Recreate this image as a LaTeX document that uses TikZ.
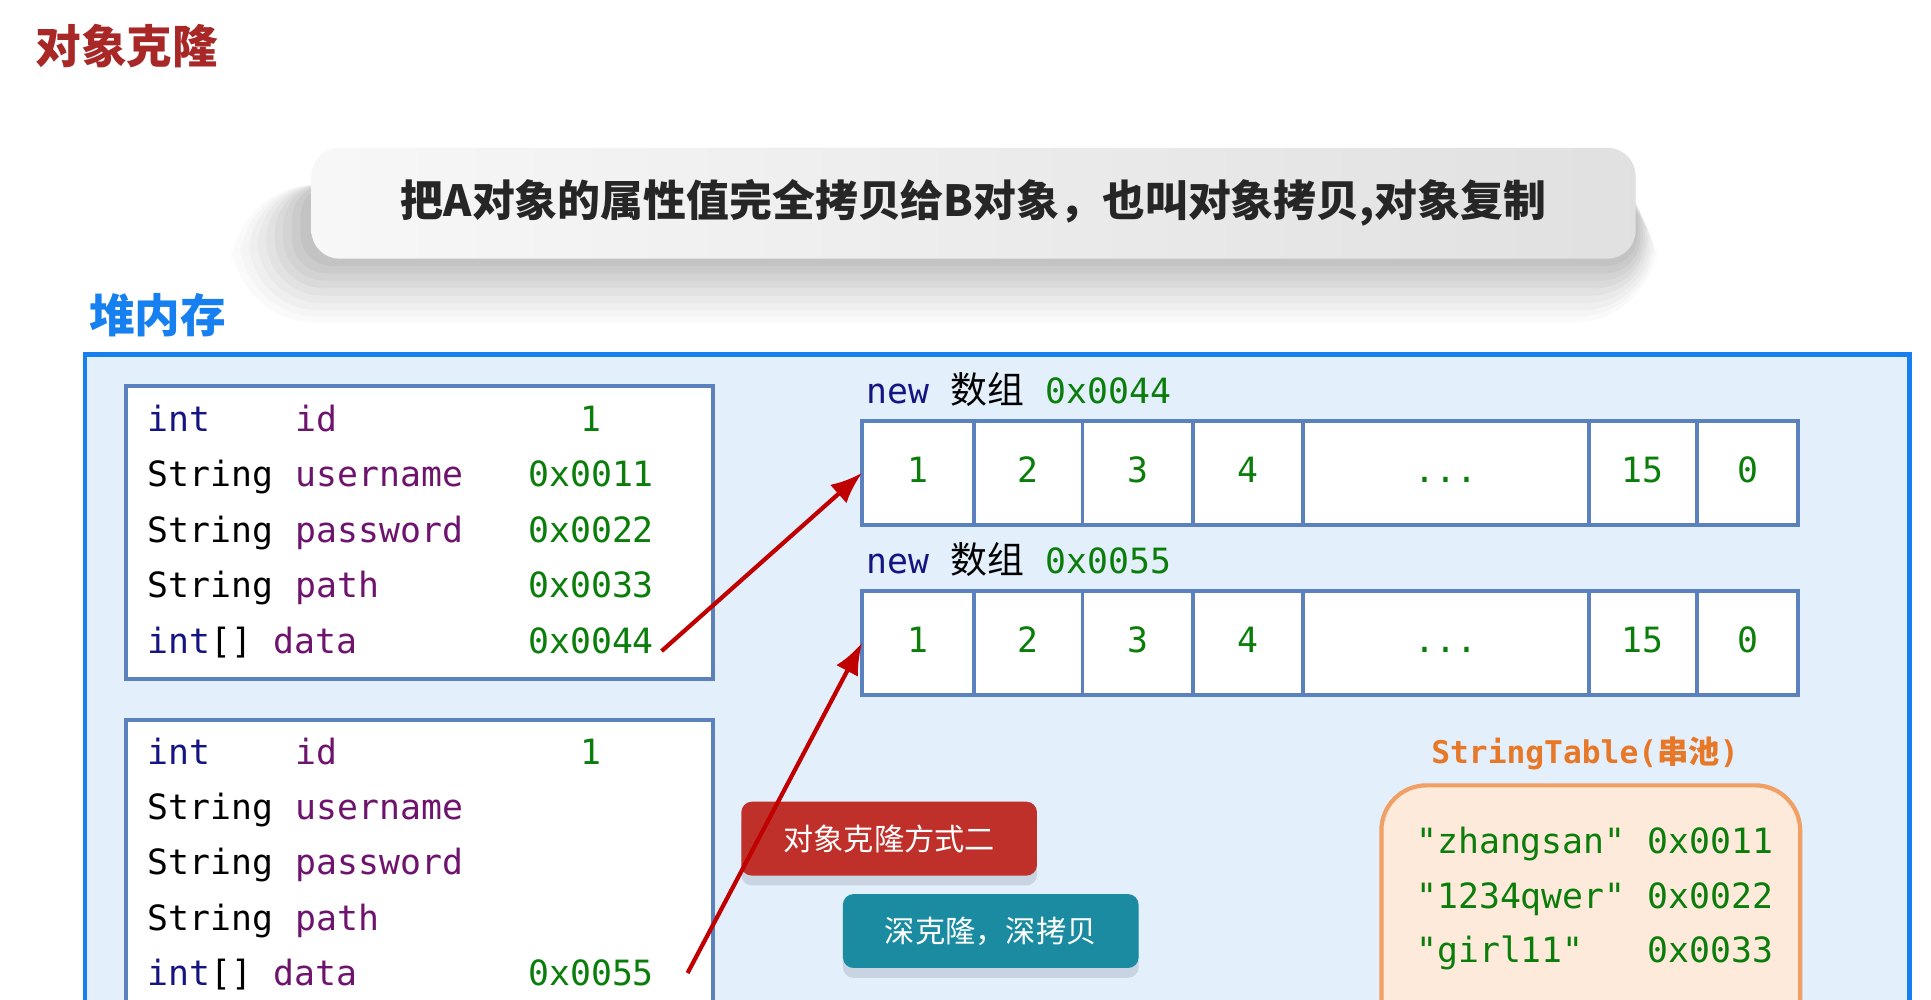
\documentclass[tikz,border=0pt]{standalone}
\usepackage{fontspec}
\setmainfont{Noto Sans CJK SC}
\setmonofont{DejaVu Sans Mono}
\newfontfamily\cjk{Noto Sans CJK SC}
\usetikzlibrary{positioning,arrows.meta,shadows}

% Colours taken from the slide
\definecolor{titlered}{RGB}{168,40,40}
\definecolor{heapblue}{RGB}{23,128,240}
\definecolor{heapfill}{RGB}{227,240,252}
\definecolor{boxblue}{RGB}{91,130,190}
\definecolor{kwnavy}{RGB}{20,20,130}
\definecolor{fieldpurple}{RGB}{110,20,110}
\definecolor{valgreen}{RGB}{10,125,10}
\definecolor{arrowred}{RGB}{192,0,0}
\definecolor{btnred}{RGB}{192,48,42}
\definecolor{btnteal}{RGB}{26,139,160}
\definecolor{btnshadow}{RGB}{200,212,226}
\definecolor{poolorange}{RGB}{230,120,40}
\definecolor{poolborder}{RGB}{240,160,100}
\definecolor{poolfill}{RGB}{253,234,218}

\newcommand{\px}{0.012315cm}
\newcommand{\codefont}{\ttfamily\fontsize{9.9}{12}\selectfont}
\newlength{\typecol}\setlength{\typecol}{1.478cm}
\newlength{\valcol}\setlength{\valcol}{1.256cm}
\newcommand{\kwd}[1]{\textcolor{kwnavy}{#1}}
\newcommand{\fld}[1]{\textcolor{fieldpurple}{#1}}
\newcommand{\hexv}[1]{\textcolor{valgreen}{#1}}
\newcommand{\fieldrow}[3]{\makebox[\typecol][l]{#1}\fld{#2}\hfill\makebox[\valcol][c]{\hexv{#3}}}
\newcommand{\arrayrow}[2]{\kwd{int}[]\hspace{0.602em}\fld{#1}\hfill\makebox[\valcol][c]{\hexv{#2}}}
\newcommand{\celldots}{.\kern0pt.\kern0pt.}

\begin{document}
\begin{tikzpicture}[x=0.012315cm, y=-0.012315cm, node distance=0.554cm]
\tikzstyle{heap} = [draw=heapblue, line width=1.4pt, fill=heapfill, inner sep=0pt]
\tikzstyle{objbox} = [draw=boxblue, line width=1.1pt, fill=white, inner sep=0pt]
\tikzstyle{field} = [font=\codefont, text width=5.06cm, align=left, inner sep=0pt, text height=7.6pt, text depth=2.4pt]
\tikzstyle{cell} = [draw=boxblue, line width=1.1pt, fill=white, font=\codefont, text=valgreen, minimum height=1.034cm, inner sep=0pt, outer sep=0pt, text height=7.6pt, text depth=2.4pt]
\tikzstyle{arrow} = [-{Latex[length=9pt,width=7pt]}, line width=1.2pt, draw=arrowred]
\tikzstyle{button} = [rounded corners=3pt, text=white, font=\cjk\fontsize{8.6}{10}\selectfont, minimum width=2.956cm, minimum height=0.739cm, drop shadow={shadow xshift=0pt, shadow yshift=-2.8pt, fill=btnshadow, opacity=1}]
\tikzstyle{poolrow} = [font=\codefont, text=valgreen, text width=3.571cm, align=left, inner sep=0pt, text height=7.6pt, text depth=2.4pt]

\useasboundingbox (0,0) rectangle (1568,812);
\clip (0,0) rectangle (1568,812);
\fill[white] (0,0) rectangle (1568,812);

% Title and the banner with its soft shadow
\node[font=\cjk\bfseries\fontsize{13}{15}\selectfont, text=titlered] (title) at (103,37) {对象克隆};

\fill[black, opacity=0.018, rounded corners=24pt] (188,150) rectangle (1346,262);
\fill[black, opacity=0.02, rounded corners=22pt] (195,150) rectangle (1344,257);
\fill[black, opacity=0.022, rounded corners=20pt] (202,150) rectangle (1342,252);
\fill[black, opacity=0.025, rounded corners=18pt] (209,150) rectangle (1340,246);
\fill[black, opacity=0.028, rounded corners=16pt] (216,150) rectangle (1338,240);
\fill[black, opacity=0.03, rounded corners=14pt] (223,150) rectangle (1336,234);
\fill[black, opacity=0.033, rounded corners=12pt] (230,150) rectangle (1334,228);
\fill[black, opacity=0.036, rounded corners=10pt] (237,150) rectangle (1332,222);
\fill[black, opacity=0.04, rounded corners=9pt] (244,150) rectangle (1330,216);
\node[rounded corners=8pt, left color=white!97!black, right color=white!88!black, minimum width=13.24cm, minimum height=1.108cm, font=\cjk\bfseries\fontsize{12.2}{14}\selectfont, text=black!85] (intro) at (790.5,165) {把A对象的属性值完全拷贝给B对象，也叫对象拷贝,对象复制};

% Heap area
\node[font=\cjk\bfseries\fontsize{13}{15}\selectfont, text=heapblue] (heaplabel) at (128,256) {堆内存};
\node[heap, anchor=north west, minimum width=18.239cm, minimum height=6.95cm] (heapbox) at (67,286) {};

% Object A
\node[objbox, anchor=north west, minimum width=5.862cm, minimum height=2.931cm] (objA) at (101,312) {};
\node[field] (rowA1) at (325.5,343) {\fieldrow{\kwd{int}}{id}{1}};
\node[field, below of=rowA1] (rowA2) {\fieldrow{String}{username}{0x0011}};
\node[field, below of=rowA2] (rowA3) {\fieldrow{String}{password}{0x0022}};
\node[field, below of=rowA3] (rowA4) {\fieldrow{String}{path}{0x0033}};
\node[field, below of=rowA4] (rowA5) {\arrayrow{data}{0x0044}};

% Object B
\node[objbox, anchor=north west, minimum width=5.862cm, minimum height=3.2cm] (objB) at (101,583) {};
\node[field] (rowB1) at (325.5,613) {\fieldrow{\kwd{int}}{id}{1}};
\node[field, below of=rowB1] (rowB2) {\fieldrow{String}{username}{}};
\node[field, below of=rowB2] (rowB3) {\fieldrow{String}{password}{}};
\node[field, below of=rowB3] (rowB4) {\fieldrow{String}{path}{}};
\node[field, below of=rowB4] (rowB5) {\arrayrow{data}{0x0055}};

% Array 0x0044
\node[cell, minimum width=91*\px] (arrA1) at (745.5,384) {1};
\node[cell, minimum width=88*\px, right=0pt of arrA1] (arrA2) {2};
\node[cell, minimum width=90*\px, right=0pt of arrA2] (arrA3) {3};
\node[cell, minimum width=89*\px, right=0pt of arrA3] (arrA4) {4};
\node[cell, minimum width=232*\px, right=0pt of arrA4] (arrA5) {\celldots};
\node[cell, minimum width=88*\px, right=0pt of arrA5] (arrA6) {15};
\node[cell, minimum width=82*\px, right=0pt of arrA6] (arrA7) {0};
\node[above right=0.14cm and 0.04cm of arrA1.north west, inner sep=0pt, font=\codefont] (lblA) {\kwd{new} {\cjk\fontsize{10.5}{12}\selectfont 数组} \hexv{0x0044}};

% Array 0x0055
\node[cell, minimum width=91*\px] (arrB1) at (745.5,522) {1};
\node[cell, minimum width=88*\px, right=0pt of arrB1] (arrB2) {2};
\node[cell, minimum width=90*\px, right=0pt of arrB2] (arrB3) {3};
\node[cell, minimum width=89*\px, right=0pt of arrB3] (arrB4) {4};
\node[cell, minimum width=232*\px, right=0pt of arrB4] (arrB5) {\celldots};
\node[cell, minimum width=88*\px, right=0pt of arrB5] (arrB6) {15};
\node[cell, minimum width=82*\px, right=0pt of arrB6] (arrB7) {0};
\node[above right=0.14cm and 0.04cm of arrB1.north west, inner sep=0pt, font=\codefont] (lblB) {\kwd{new} {\cjk\fontsize{10.5}{12}\selectfont 数组} \hexv{0x0055}};

% Tags
\node[button, fill=btnred] (wayTwo) at (722,681) {对象克隆方式二};
\node[button, fill=btnteal] (deepCopy) at (804.5,756) {深克隆，深拷贝};

% String pool
\node[font=\ttfamily\bfseries\fontsize{8.9}{11}\selectfont, text=poolorange] (poolLabel) at (1287,612) {StringTable({\cjk\bfseries 串池})};
\node[draw=poolborder, line width=1.2pt, fill=poolfill, rounded corners=0.45cm, anchor=north west, minimum width=4.187cm, minimum height=2.75cm] (pool) at (1120,636) {};
\node[poolrow] (poolA) at (1295,686) {"zhangsan"\hfill 0x0011};
\node[poolrow, below of=poolA, node distance=0.542cm] (poolB) {"1234qwer"\hfill 0x0022};
\node[poolrow, below of=poolB, node distance=0.542cm] (poolC) {"girl11"\hfill 0x0033};

% References to the arrays
\draw[arrow] ([xshift=2pt,yshift=-2pt]rowA5.east) -- (arrA1.west);
\draw[arrow] ([xshift=0.33cm,yshift=1pt]rowB5.east) -- (arrB1.west);

\end{tikzpicture}
\end{document}
